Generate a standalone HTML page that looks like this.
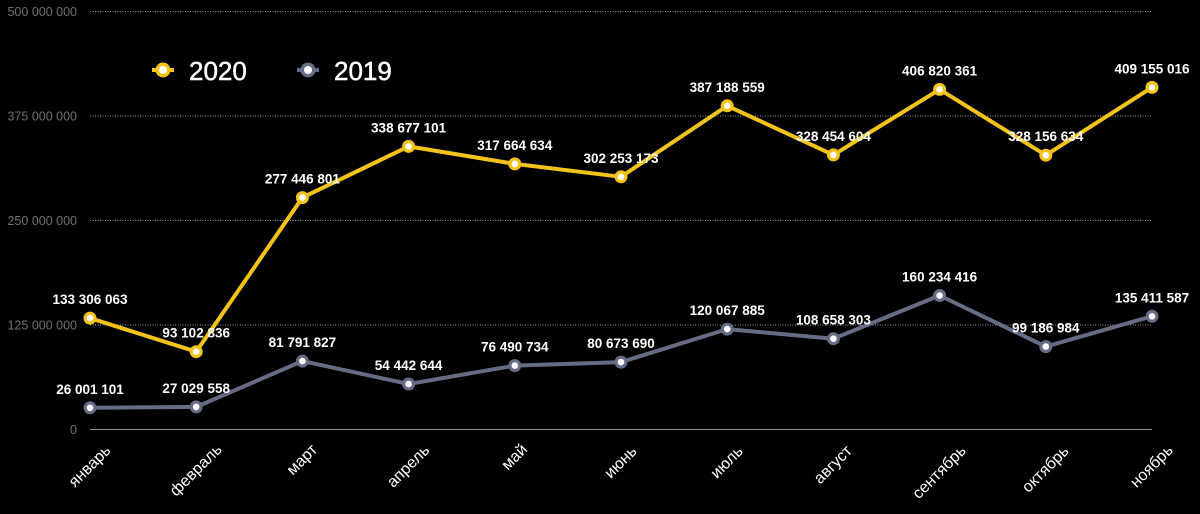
<!DOCTYPE html>
<html><head><meta charset="utf-8"><style>
html,body{margin:0;padding:0;background:#000;}
svg{display:block;}
.ax{font-family:"Liberation Sans",sans-serif;font-size:12.5px;fill:#707070;}
.dl{font-family:"Liberation Sans",sans-serif;font-size:13.5px;font-weight:bold;fill:#fff;}
.mo{font-family:"Liberation Sans",sans-serif;font-size:16px;fill:#fff;}
.lg{font-family:"Liberation Sans",sans-serif;font-size:26px;fill:#fff;stroke:#fff;stroke-width:0.5px;}
</style></head><body>
<svg width="1200" height="514" viewBox="0 0 1200 514" xmlns="http://www.w3.org/2000/svg">
<rect width="1200" height="514" fill="#000"/>
<g stroke="#9a9a9a" stroke-width="1" stroke-dasharray="1,1.5">
<line x1="90" y1="11.5" x2="1152" y2="11.5"/>
<line x1="90" y1="116" x2="1152" y2="116"/>
<line x1="90" y1="220.5" x2="1152" y2="220.5"/>
<line x1="90" y1="325" x2="1152" y2="325"/>
</g>
<line x1="90" y1="429.5" x2="1152" y2="429.5" stroke="#8a8a8a" stroke-width="1"/>
<g class="ax" text-anchor="end">
<text x="77" y="16">500 000 000</text>
<text x="77" y="120.5">375 000 000</text>
<text x="77" y="225">250 000 000</text>
<text x="77" y="329.5">125 000 000</text>
<text x="77" y="434">0</text>
</g>
<!-- legend -->
<line x1="152" y1="70" x2="174" y2="70" stroke="#f4c31a" stroke-width="4"/>
<circle cx="163" cy="70" r="7.5" fill="#f4c31a"/>
<circle cx="163" cy="70" r="4" fill="#fff"/>
<text class="lg" x="189" y="80">2020</text>
<line x1="297" y1="70" x2="319" y2="70" stroke="#656c85" stroke-width="4"/>
<circle cx="308" cy="70" r="7.5" fill="#656c85"/>
<circle cx="308" cy="70" r="4" fill="#fff"/>
<text class="lg" x="334" y="80">2019</text>
<!-- 2019 series -->
<polyline fill="none" stroke="#656c85" stroke-width="4" stroke-linejoin="round" points="90,407.8 196.2,406.9 302.4,361.1 408.6,384 514.8,365.6 621,362.1 727.2,329.1 833.4,338.7 939.6,295.5 1045.8,346.6 1152,316.3"/>
<g fill="#656c85">
<circle cx="90" cy="407.8" r="6.5"/><circle cx="196.2" cy="406.9" r="6.5"/><circle cx="302.4" cy="361.1" r="6.5"/><circle cx="408.6" cy="384" r="6.5"/><circle cx="514.8" cy="365.6" r="6.5"/><circle cx="621" cy="362.1" r="6.5"/><circle cx="727.2" cy="329.1" r="6.5"/><circle cx="833.4" cy="338.7" r="6.5"/><circle cx="939.6" cy="295.5" r="6.5"/><circle cx="1045.8" cy="346.6" r="6.5"/><circle cx="1152" cy="316.3" r="6.5"/>
</g>
<g fill="#fff">
<circle cx="90" cy="407.8" r="3.3"/><circle cx="196.2" cy="406.9" r="3.3"/><circle cx="302.4" cy="361.1" r="3.3"/><circle cx="408.6" cy="384" r="3.3"/><circle cx="514.8" cy="365.6" r="3.3"/><circle cx="621" cy="362.1" r="3.3"/><circle cx="727.2" cy="329.1" r="3.3"/><circle cx="833.4" cy="338.7" r="3.3"/><circle cx="939.6" cy="295.5" r="3.3"/><circle cx="1045.8" cy="346.6" r="3.3"/><circle cx="1152" cy="316.3" r="3.3"/>
</g>
<!-- 2020 series -->
<polyline fill="none" stroke="#f4c31a" stroke-width="4" stroke-linejoin="round" points="90,318.1 196.2,351.7 302.4,197.6 408.6,146.4 514.8,163.9 621,176.8 727.2,105.8 833.4,154.9 939.6,89.4 1045.8,155.2 1152,87.4"/>
<g fill="#f4c31a">
<circle cx="90" cy="318.1" r="6.5"/><circle cx="196.2" cy="351.7" r="6.5"/><circle cx="302.4" cy="197.6" r="6.5"/><circle cx="408.6" cy="146.4" r="6.5"/><circle cx="514.8" cy="163.9" r="6.5"/><circle cx="621" cy="176.8" r="6.5"/><circle cx="727.2" cy="105.8" r="6.5"/><circle cx="833.4" cy="154.9" r="6.5"/><circle cx="939.6" cy="89.4" r="6.5"/><circle cx="1045.8" cy="155.2" r="6.5"/><circle cx="1152" cy="87.4" r="6.5"/>
</g>
<g fill="#fff">
<circle cx="90" cy="318.1" r="3.3"/><circle cx="196.2" cy="351.7" r="3.3"/><circle cx="302.4" cy="197.6" r="3.3"/><circle cx="408.6" cy="146.4" r="3.3"/><circle cx="514.8" cy="163.9" r="3.3"/><circle cx="621" cy="176.8" r="3.3"/><circle cx="727.2" cy="105.8" r="3.3"/><circle cx="833.4" cy="154.9" r="3.3"/><circle cx="939.6" cy="89.4" r="3.3"/><circle cx="1045.8" cy="155.2" r="3.3"/><circle cx="1152" cy="87.4" r="3.3"/>
</g>
<!-- data labels 2019 -->
<g class="dl" text-anchor="middle">
<text x="90" y="394">26 001 101</text>
<text x="196.2" y="393">27 029 558</text>
<text x="302.4" y="347">81 791 827</text>
<text x="408.6" y="370">54 442 644</text>
<text x="514.8" y="351.6">76 490 734</text>
<text x="621" y="348">80 673 690</text>
<text x="727.2" y="315">120 067 885</text>
<text x="833.4" y="324.7">108 658 303</text>
<text x="939.6" y="281.5">160 234 416</text>
<text x="1045.8" y="332.6">99 186 984</text>
<text x="1152" y="302.3">135 411 587</text>
</g>
<!-- data labels 2020 -->
<g class="dl" text-anchor="middle">
<text x="90" y="304">133 306 063</text>
<text x="196.2" y="337.7">93 102 836</text>
<text x="302.4" y="183.6">277 446 801</text>
<text x="408.6" y="132.4">338 677 101</text>
<text x="514.8" y="149.9">317 664 634</text>
<text x="621" y="162.8">302 253 173</text>
<text x="727.2" y="91.8">387 188 559</text>
<text x="833.4" y="140.9">328 454 604</text>
<text x="939.6" y="75.4">406 820 361</text>
<text x="1045.8" y="141.2">328 156 634</text>
<text x="1152" y="73.4">409 155 016</text>
</g>
<!-- month labels -->
<g class="mo" text-anchor="middle" dominant-baseline="central">
<text transform="translate(90,466.5) rotate(-45)">январь</text>
<text transform="translate(196.2,470.5) rotate(-45)">февраль</text>
<text transform="translate(302.4,460) rotate(-45)">март</text>
<text transform="translate(408.6,466.5) rotate(-45)">апрель</text>
<text transform="translate(514.8,457.5) rotate(-45)">май</text>
<text transform="translate(621,462.5) rotate(-45)">июнь</text>
<text transform="translate(727.2,462.5) rotate(-45)">июль</text>
<text transform="translate(833.4,465) rotate(-45)">август</text>
<text transform="translate(939.6,472.5) rotate(-45)">сентябрь</text>
<text transform="translate(1045.8,469.5) rotate(-45)">октябрь</text>
<text transform="translate(1152,466.5) rotate(-45)">ноябрь</text>
</g>
</svg>
</body></html>
